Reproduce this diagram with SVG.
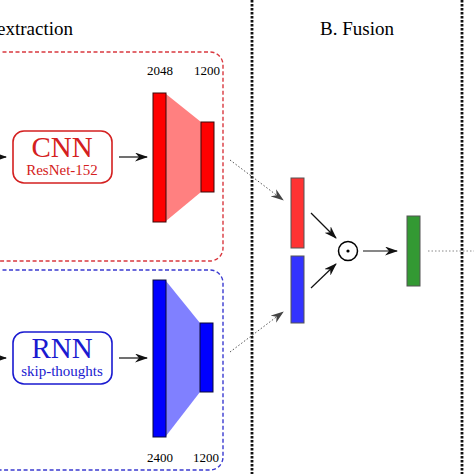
<svg xmlns="http://www.w3.org/2000/svg" width="474" height="474" viewBox="0 0 474 474">
<defs>
<style>
text{font-family:"Liberation Serif","DejaVu Serif",serif;}
.title{font-size:19px;fill:#000;}
.dim{font-size:13px;fill:#000;text-anchor:middle;}
.sep{stroke:#111;stroke-width:2.8;stroke-dasharray:2.4 1.6;fill:none;}
.arr{stroke:#111;stroke-width:1.2;fill:none;marker-end:url(#ah);}
.dot{stroke:#555;stroke-width:1;stroke-dasharray:1.5 2;fill:none;marker-end:url(#ahg);}
</style>
<marker id="ah" viewBox="0 0 13 9" refX="12" refY="4.5" markerWidth="13" markerHeight="9" markerUnits="userSpaceOnUse" orient="auto">
<path d="M0,0 L13,4.5 L0,9 L4,4.5 z" fill="#111"/>
</marker>
<marker id="ahg" viewBox="0 0 13 9" refX="12" refY="4.5" markerWidth="13" markerHeight="9" markerUnits="userSpaceOnUse" orient="auto">
<path d="M0,0 L13,4.5 L0,9 L4,4.5 z" fill="#444"/>
</marker>
</defs>
<rect width="474" height="474" fill="#fff"/>
<g id="separators">
<line class="sep" x1="252" y1="0" x2="252" y2="474"/>
<line class="sep" x1="462" y1="0" x2="462" y2="474"/>
</g>
<text class="title" x="73" y="35" text-anchor="end">extraction</text>
<text class="title" x="357" y="35" text-anchor="middle">B. Fusion</text>
<g id="image-branch">
<rect x="-30" y="52" width="253" height="209" rx="13" fill="none" stroke="#d9383f" stroke-width="1.4" stroke-dasharray="4 2.5"/>
<text class="dim" x="160" y="75">2048</text>
<text class="dim" x="207" y="75">1200</text>
<polygon points="166,94 201,122 201,192 166,221" fill="#ff8080"/>
<rect x="153" y="93" width="13" height="129" fill="#ff0000" stroke="#3a0a0a" stroke-width="1"/>
<rect x="201" y="122" width="13" height="70" fill="#ff0000" stroke="#3a0a0a" stroke-width="1"/>
</g>
<g id="cnn">
<rect x="13" y="131" width="99" height="52" rx="11" fill="#fff" stroke="#d42020" stroke-width="1.6"/>
<text x="62" y="157" text-anchor="middle" font-size="29" fill="#d42020">CNN</text>
<text x="62" y="175" text-anchor="middle" font-size="15" fill="#d42020">ResNet-152</text>
</g>
<g id="text-branch">
<rect x="-30" y="270" width="253" height="200" rx="13" fill="none" stroke="#3a3ad0" stroke-width="1.4" stroke-dasharray="4 2.5"/>
<text class="dim" x="160" y="462">2400</text>
<text class="dim" x="206" y="462">1200</text>
<polygon points="166,281 200,323 200,392 166,436" fill="#8080ff"/>
<rect x="153" y="280" width="13" height="157" fill="#0000ff" stroke="#0a0a3a" stroke-width="1"/>
<rect x="200" y="323" width="13" height="69" fill="#0000ff" stroke="#0a0a3a" stroke-width="1"/>
</g>
<g id="rnn">
<rect x="13" y="332" width="99" height="52" rx="11" fill="#fff" stroke="#1a1ad0" stroke-width="1.6"/>
<text x="62" y="358" text-anchor="middle" font-size="29" fill="#1a1ad0">RNN</text>
<text x="62" y="376" text-anchor="middle" font-size="15" fill="#1a1ad0">skip-thoughts</text>
</g>
<g id="fusion-image">
<rect x="291" y="178" width="13" height="70" fill="#ff3333" stroke="#555" stroke-width="1"/>
</g>
<g id="fusion-text">
<rect x="291" y="256" width="13" height="67" fill="#3333ff" stroke="#555" stroke-width="1"/>
</g>
<g id="product">
<circle cx="348" cy="251" r="9.5" fill="#fff" stroke="#000" stroke-width="1.5"/>
<circle cx="348" cy="251" r="1.6" fill="#000"/>
</g>
<g id="output">
<rect x="407" y="216" width="13" height="70" fill="#339933" stroke="#555" stroke-width="1"/>
</g>
<g id="connectors">
<line class="arr" x1="-10" y1="157" x2="6" y2="157"/>
<line class="arr" x1="-10" y1="358" x2="6" y2="358"/>
<line class="arr" x1="119" y1="157" x2="147" y2="157"/>
<line class="arr" x1="119" y1="358" x2="147" y2="358"/>
<line class="dot" x1="230" y1="160" x2="283" y2="200"/>
<line class="dot" x1="230" y1="352" x2="283" y2="312"/>
<line class="arr" x1="311" y1="213" x2="336" y2="238"/>
<line class="arr" x1="311" y1="288" x2="336" y2="264"/>
<line class="arr" x1="363" y1="251" x2="397" y2="251"/>
<line x1="428" y1="251" x2="474" y2="251" stroke="#888" stroke-width="1" stroke-dasharray="1.5 2"/>
</g>
</svg>
